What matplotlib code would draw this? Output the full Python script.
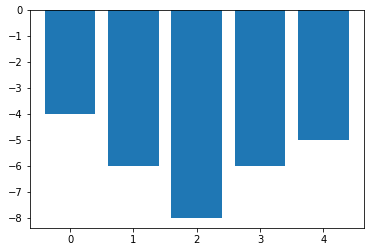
import matplotlib
matplotlib.use("Agg")
import matplotlib.pyplot as plt

categories = [0, 1, 2, 3, 4]
values = [-4, -6, -8, -6, -5]

W, H, DPI = 374, 252, 72
fig = plt.figure(figsize=(W / DPI, H / DPI), dpi=DPI)
ax = fig.add_axes([29.5 / W, (H - 228) / H, (364 - 29.5) / W, (228 - 10.3) / H])
ax.bar(categories, values, color="#1f77b4")
ax.set_xticks(categories)
ax.tick_params(labelsize=10)
fig.savefig("out.png", dpi=DPI)
